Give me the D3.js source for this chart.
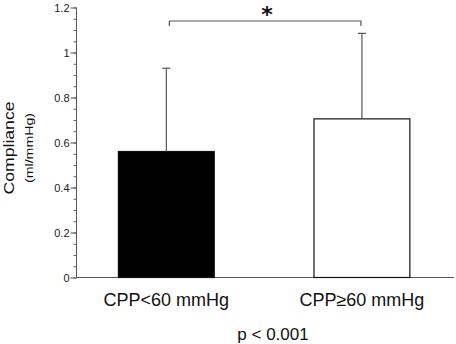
<!DOCTYPE html>
<html>
<head>
<meta charset="utf-8">
<script src="https://cdn.jsdelivr.net/npm/d3@7"></script>
<style>
  html, body { margin: 0; padding: 0; background: #fff; }
  svg { display: block; font-family: "Liberation Sans", Arial, sans-serif; }
</style>
</head>
<body>
<svg id="chart" width="456" height="344"></svg>
<script>
// ---- data ----
const categories = ["CPP<60 mmHg", "CPP\u226560 mmHg"];
const means = [0.56, 0.705];
const sds = [0.37, 0.38];
const barFills = ["#000000", "#ffffff"];
const yTicks = [0, 0.2, 0.4, 0.6, 0.8, 1, 1.2];
const yMinorTicks = d3.range(0, 1.2001, 0.05);
const yTitle = "Compliance";
const yUnit = "(ml/mmHg)";
const sigMark = "*";
const bracketLevel = 1.14;
const pText = "p < 0.001";

// ---- layout ----
const svg = d3.select("#chart");
const x0 = 76.5, x1 = 454, yBottom = 277.5, yTop = 7.5;

const x = d3.scaleBand()
  .domain(categories)
  .range([x0, x1])
  .paddingInner(0.51)
  .paddingOuter(0.22)
  .align(0.487);

const y = d3.scaleLinear().domain([0, 1.2]).range([yBottom, yTop]);

// minor ticks
svg.append("g")
  .attr("transform", `translate(${x0},0)`)
  .call(d3.axisLeft(y).tickValues(yMinorTicks).tickSize(3).tickFormat(""))
  .call(g => g.select(".domain").remove())
  .call(g => g.selectAll("line").attr("stroke", "#666"));

// major axis
svg.append("g")
  .attr("transform", `translate(${x0},0)`)
  .call(d3.axisLeft(y).tickValues(yTicks).tickSize(6).tickPadding(1)
    .tickFormat(d => String(+d.toFixed(1))))
  .call(g => g.select(".domain").attr("stroke", "#555").attr("d", `M-0,${yBottom}V${yTop}`))
  .call(g => g.selectAll("line").attr("stroke", "#555"))
  .call(g => g.selectAll("text")
    .attr("font-family", "Liberation Sans, Arial, sans-serif")
    .attr("font-size", 11).attr("fill", "#222"));

// x axis baseline
svg.append("line")
  .attr("x1", x0).attr("x2", x1)
  .attr("y1", y(0)).attr("y2", y(0))
  .attr("stroke", "#555").attr("stroke-width", 1.2);

// bars
svg.selectAll("rect.bar")
  .data(categories)
  .join("rect")
  .attr("class", "bar")
  .attr("x", d => x(d))
  .attr("width", x.bandwidth())
  .attr("y", (d, i) => y(means[i]))
  .attr("height", (d, i) => y(0) - y(means[i]))
  .attr("fill", (d, i) => barFills[i])
  .attr("stroke", "#111")
  .attr("stroke-width", 1.2);

// error bars
const cx = d => x(d) + x.bandwidth() / 2;
const eb = svg.append("g").attr("stroke", "#555").attr("stroke-width", 1.2);
categories.forEach((c, i) => {
  eb.append("line")
    .attr("x1", cx(c)).attr("x2", cx(c))
    .attr("y1", y(means[i])).attr("y2", y(means[i] + sds[i]));
  eb.append("line")
    .attr("x1", cx(c) - 4).attr("x2", cx(c) + 4)
    .attr("y1", y(means[i] + sds[i])).attr("y2", y(means[i] + sds[i]));
});

// significance bracket
const bl = cx(categories[0]) + 3, br = cx(categories[1]) - 1;
svg.append("path")
  .attr("d", `M${bl},${y(bracketLevel) + 5}V${y(bracketLevel)}H${br}V${y(bracketLevel) + 5}`)
  .attr("fill", "none").attr("stroke", "#555").attr("stroke-width", 1.2);
svg.append("text")
  .attr("x", (bl + br) / 2 + 2).attr("y", 21.5)
  .attr("text-anchor", "middle")
  .attr("font-family", "DejaVu Sans, sans-serif")
  .attr("font-size", 22).attr("font-weight", "bold")
  .attr("fill", "#111")
  .text(sigMark);

// category labels
svg.selectAll("text.cat")
  .data(categories)
  .join("text")
  .attr("class", "cat")
  .attr("x", d => cx(d))
  .attr("y", 305.5)
  .attr("text-anchor", "middle")
  .attr("font-size", 18)
  .attr("fill", "#111")
  .text(d => d);

// p-value
svg.append("text")
  .attr("x", 273).attr("y", 340)
  .attr("text-anchor", "middle")
  .attr("font-size", 17)
  .attr("fill", "#111")
  .text(pText);

// y-axis titles
svg.append("text")
  .attr("transform", `translate(14,148) rotate(-90)`)
  .attr("text-anchor", "middle")
  .attr("font-size", 14.5)
  .attr("textLength", 93)
  .attr("lengthAdjust", "spacingAndGlyphs")
  .attr("fill", "#111")
  .text(yTitle);
svg.append("text")
  .attr("transform", `translate(33,148) rotate(-90)`)
  .attr("text-anchor", "middle")
  .attr("font-size", 11)
  .attr("textLength", 70)
  .attr("lengthAdjust", "spacingAndGlyphs")
  .attr("fill", "#111")
  .text(yUnit);
</script>
</body>
</html>
